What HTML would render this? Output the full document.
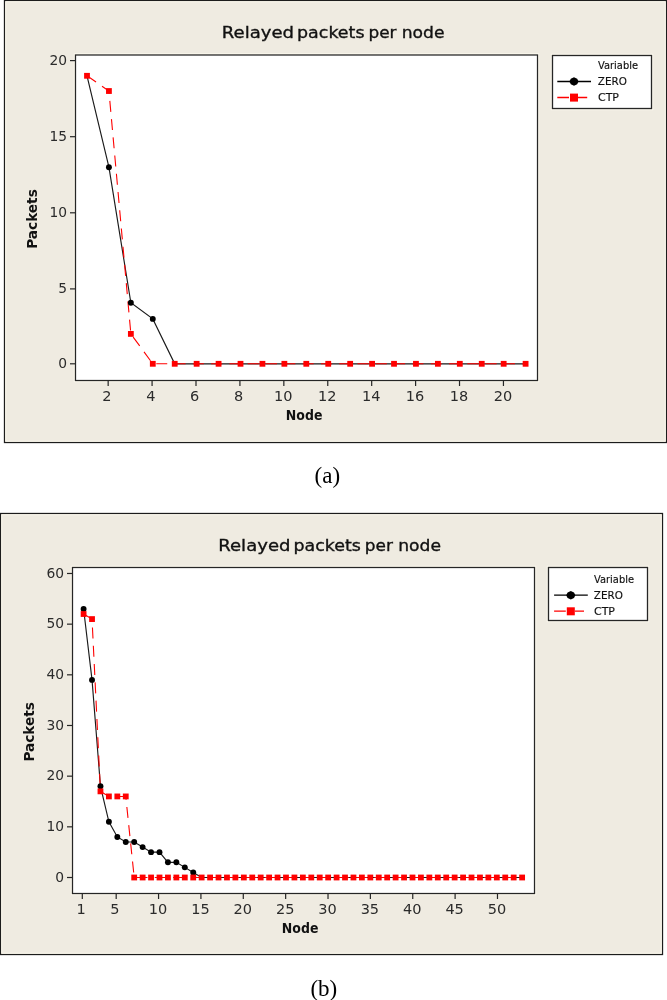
<!DOCTYPE html>
<html><head><meta charset="utf-8"><style>
html,body{margin:0;padding:0;background:#fff;}
svg{display:block;}
.ti{font-family:"DejaVu Sans",sans-serif;font-size:15px;fill:#111;stroke:#111;stroke-width:0.32px;}
.tk{font-family:"DejaVu Sans Condensed","DejaVu Sans",sans-serif;font-size:14.8px;fill:#2b2b2b;}
.al{font-family:"DejaVu Sans Condensed","DejaVu Sans",sans-serif;font-size:13.8px;font-weight:bold;fill:#111;}
.lg{font-family:"DejaVu Sans",sans-serif;font-size:11px;fill:#111;stroke:#111;stroke-width:0.15px;}
.cap{font-family:"Liberation Serif",serif;font-size:23px;fill:#000;}
</style></head><body>
<svg width="667" height="1000" viewBox="0 0 667 1000">
<rect width="667" height="1000" fill="#fff"/>
<rect x="4.5" y="0.5" width="662" height="442" fill="#EFEBE1" stroke="#1c1c1c" stroke-width="1.3"/>
<rect x="5.75" y="1.75" width="659.5" height="439.5" fill="none" stroke="#FDF9EE" stroke-width="0.9"/>
<rect x="74.25" y="53.75" width="464.5" height="328.0" fill="none" stroke="#FDF9EE" stroke-width="0.9"/>
<rect x="75.5" y="55.0" width="462" height="325.5" fill="#fff" stroke="#262626" stroke-width="1.25"/>
<text y="38.4" class="ti"><tspan x="221.87" textLength="72.23" lengthAdjust="spacingAndGlyphs">Relayed</tspan> <tspan x="297.05" textLength="67.46" lengthAdjust="spacingAndGlyphs">packets</tspan> <tspan x="368.49" textLength="28.09" lengthAdjust="spacingAndGlyphs">per</tspan> <tspan x="401.76" textLength="42.82" lengthAdjust="spacingAndGlyphs">node</tspan></text>
<line x1="70" y1="363.8" x2="75" y2="363.8" stroke="#262626" stroke-width="1.2"/>
<text transform="translate(67,367.9) scale(1.04,1)" class="tk" text-anchor="end">0</text>
<line x1="70" y1="288.9" x2="75" y2="288.9" stroke="#262626" stroke-width="1.2"/>
<text transform="translate(67,293) scale(1.04,1)" class="tk" text-anchor="end">5</text>
<line x1="70" y1="212.8" x2="75" y2="212.8" stroke="#262626" stroke-width="1.2"/>
<text transform="translate(67,216.9) scale(1.04,1)" class="tk" text-anchor="end">10</text>
<line x1="70" y1="136.7" x2="75" y2="136.7" stroke="#262626" stroke-width="1.2"/>
<text transform="translate(67,140.8) scale(1.04,1)" class="tk" text-anchor="end">15</text>
<line x1="70" y1="60.6" x2="75" y2="60.6" stroke="#262626" stroke-width="1.2"/>
<text transform="translate(67,64.7) scale(1.04,1)" class="tk" text-anchor="end">20</text>
<line x1="108.16" y1="380.5" x2="108.16" y2="386" stroke="#262626" stroke-width="1.2"/>
<text transform="translate(106.86,401.3) scale(1.09,1)" class="tk" text-anchor="middle">2</text>
<line x1="152.08" y1="380.5" x2="152.08" y2="386" stroke="#262626" stroke-width="1.2"/>
<text transform="translate(150.78,401.3) scale(1.09,1)" class="tk" text-anchor="middle">4</text>
<line x1="196" y1="380.5" x2="196" y2="386" stroke="#262626" stroke-width="1.2"/>
<text transform="translate(194.7,401.3) scale(1.09,1)" class="tk" text-anchor="middle">6</text>
<line x1="239.92" y1="380.5" x2="239.92" y2="386" stroke="#262626" stroke-width="1.2"/>
<text transform="translate(238.62,401.3) scale(1.09,1)" class="tk" text-anchor="middle">8</text>
<line x1="283.84" y1="380.5" x2="283.84" y2="386" stroke="#262626" stroke-width="1.2"/>
<text transform="translate(283.34,401.3) scale(1.09,1)" class="tk" text-anchor="middle">10</text>
<line x1="327.76" y1="380.5" x2="327.76" y2="386" stroke="#262626" stroke-width="1.2"/>
<text transform="translate(327.26,401.3) scale(1.09,1)" class="tk" text-anchor="middle">12</text>
<line x1="371.68" y1="380.5" x2="371.68" y2="386" stroke="#262626" stroke-width="1.2"/>
<text transform="translate(371.18,401.3) scale(1.09,1)" class="tk" text-anchor="middle">14</text>
<line x1="415.6" y1="380.5" x2="415.6" y2="386" stroke="#262626" stroke-width="1.2"/>
<text transform="translate(415.1,401.3) scale(1.09,1)" class="tk" text-anchor="middle">16</text>
<line x1="459.52" y1="380.5" x2="459.52" y2="386" stroke="#262626" stroke-width="1.2"/>
<text transform="translate(459.02,401.3) scale(1.09,1)" class="tk" text-anchor="middle">18</text>
<line x1="503.44" y1="380.5" x2="503.44" y2="386" stroke="#262626" stroke-width="1.2"/>
<text transform="translate(502.94,401.3) scale(1.09,1)" class="tk" text-anchor="middle">20</text>
<text x="285.8" y="420.2" class="al" textLength="36.6" lengthAdjust="spacingAndGlyphs">Node</text>
<text transform="translate(37.4,248.8) rotate(-90)" x="0" y="0" class="al" textLength="59.6" lengthAdjust="spacingAndGlyphs">Packets</text>
<polyline points="87,75.8 108.93,167.2 130.86,302.8 152.79,318.9 174.72,363.8 196.65,363.8 218.58,363.8 240.51,363.8 262.44,363.8 284.37,363.8 306.3,363.8 328.23,363.8 350.16,363.8 372.09,363.8 394.02,363.8 415.95,363.8 437.88,363.8 459.81,363.8 481.74,363.8 503.67,363.8 525.6,363.8" fill="none" stroke="#1a1a1a" stroke-width="1.15"/>
<polyline points="87,75.8 108.93,91.02 130.86,333.9 152.79,363.8 174.72,363.8 196.65,363.8 218.58,363.8 240.51,363.8 262.44,363.8 284.37,363.8 306.3,363.8 328.23,363.8 350.16,363.8 372.09,363.8 394.02,363.8 415.95,363.8 437.88,363.8 459.81,363.8 481.74,363.8 503.67,363.8 525.6,363.8" fill="none" stroke="#FF0000" stroke-width="1.1" stroke-dasharray="11 7.3"/>
<circle cx="108.93" cy="167.2" r="2.95" fill="#000"/>
<circle cx="130.86" cy="302.8" r="2.95" fill="#000"/>
<circle cx="152.79" cy="318.9" r="2.95" fill="#000"/>
<rect x="84.1" y="72.9" width="5.8" height="5.8" fill="#FF0000"/>
<rect x="106.03" y="88.12" width="5.8" height="5.8" fill="#FF0000"/>
<rect x="127.96" y="331" width="5.8" height="5.8" fill="#FF0000"/>
<rect x="149.89" y="360.9" width="5.8" height="5.8" fill="#FF0000"/>
<rect x="171.82" y="360.9" width="5.8" height="5.8" fill="#FF0000"/>
<rect x="193.75" y="360.9" width="5.8" height="5.8" fill="#FF0000"/>
<rect x="215.68" y="360.9" width="5.8" height="5.8" fill="#FF0000"/>
<rect x="237.61" y="360.9" width="5.8" height="5.8" fill="#FF0000"/>
<rect x="259.54" y="360.9" width="5.8" height="5.8" fill="#FF0000"/>
<rect x="281.47" y="360.9" width="5.8" height="5.8" fill="#FF0000"/>
<rect x="303.4" y="360.9" width="5.8" height="5.8" fill="#FF0000"/>
<rect x="325.33" y="360.9" width="5.8" height="5.8" fill="#FF0000"/>
<rect x="347.26" y="360.9" width="5.8" height="5.8" fill="#FF0000"/>
<rect x="369.19" y="360.9" width="5.8" height="5.8" fill="#FF0000"/>
<rect x="391.12" y="360.9" width="5.8" height="5.8" fill="#FF0000"/>
<rect x="413.05" y="360.9" width="5.8" height="5.8" fill="#FF0000"/>
<rect x="434.98" y="360.9" width="5.8" height="5.8" fill="#FF0000"/>
<rect x="456.91" y="360.9" width="5.8" height="5.8" fill="#FF0000"/>
<rect x="478.84" y="360.9" width="5.8" height="5.8" fill="#FF0000"/>
<rect x="500.77" y="360.9" width="5.8" height="5.8" fill="#FF0000"/>
<rect x="522.7" y="360.9" width="5.8" height="5.8" fill="#FF0000"/>
<rect x="551.25" y="54.25" width="101.5" height="55.5" fill="none" stroke="#FDF9EE" stroke-width="0.9"/>
<rect x="552.5" y="55.5" width="99" height="53" fill="#fff" stroke="#262626" stroke-width="1.3"/>
<text x="598" y="69.1" class="lg" textLength="40" lengthAdjust="spacingAndGlyphs">Variable</text>
<text x="597.8" y="85.1" class="lg" textLength="29" lengthAdjust="spacingAndGlyphs">ZERO</text>
<text x="598" y="101.1" class="lg" textLength="21" lengthAdjust="spacingAndGlyphs">CTP</text>
<line x1="557.3" y1="81.5" x2="591" y2="81.5" stroke="#000" stroke-width="1.3"/>
<path d="M574 77.3l3.2 1.4 1.4 2.8-1.4 2.8-3.2 1.4-3.2-1.4-1.4-2.8 1.4-2.8z" fill="#000"/>
<path d="M557.3 97.5H569M578 97.5H587.2" stroke="#FF0000" stroke-width="1.3"/>
<rect x="570" y="93.6" width="8" height="8" fill="#FF0000"/>
<rect x="0.5" y="513.5" width="662" height="441" fill="#EFEBE1" stroke="#1c1c1c" stroke-width="1.3"/>
<rect x="1.75" y="514.75" width="659.5" height="438.5" fill="none" stroke="#FDF9EE" stroke-width="0.9"/>
<rect x="71.25" y="566.25" width="464.5" height="328.5" fill="none" stroke="#FDF9EE" stroke-width="0.9"/>
<rect x="72.5" y="567.5" width="462" height="326" fill="#fff" stroke="#262626" stroke-width="1.25"/>
<text y="551" class="ti"><tspan x="218.27" textLength="72.23" lengthAdjust="spacingAndGlyphs">Relayed</tspan> <tspan x="293.45" textLength="67.46" lengthAdjust="spacingAndGlyphs">packets</tspan> <tspan x="364.89" textLength="28.09" lengthAdjust="spacingAndGlyphs">per</tspan> <tspan x="398.16" textLength="42.82" lengthAdjust="spacingAndGlyphs">node</tspan></text>
<line x1="67" y1="877.5" x2="72" y2="877.5" stroke="#262626" stroke-width="1.2"/>
<text transform="translate(64,881.6) scale(1.04,1)" class="tk" text-anchor="end">0</text>
<line x1="67" y1="826.83" x2="72" y2="826.83" stroke="#262626" stroke-width="1.2"/>
<text transform="translate(64,830.93) scale(1.04,1)" class="tk" text-anchor="end">10</text>
<line x1="67" y1="776.16" x2="72" y2="776.16" stroke="#262626" stroke-width="1.2"/>
<text transform="translate(64,780.26) scale(1.04,1)" class="tk" text-anchor="end">20</text>
<line x1="67" y1="725.49" x2="72" y2="725.49" stroke="#262626" stroke-width="1.2"/>
<text transform="translate(64,729.59) scale(1.04,1)" class="tk" text-anchor="end">30</text>
<line x1="67" y1="674.82" x2="72" y2="674.82" stroke="#262626" stroke-width="1.2"/>
<text transform="translate(64,678.92) scale(1.04,1)" class="tk" text-anchor="end">40</text>
<line x1="67" y1="624.15" x2="72" y2="624.15" stroke="#262626" stroke-width="1.2"/>
<text transform="translate(64,628.25) scale(1.04,1)" class="tk" text-anchor="end">50</text>
<line x1="67" y1="573.48" x2="72" y2="573.48" stroke="#262626" stroke-width="1.2"/>
<text transform="translate(64,577.58) scale(1.04,1)" class="tk" text-anchor="end">60</text>
<line x1="82.3" y1="893.5" x2="82.3" y2="899" stroke="#262626" stroke-width="1.2"/>
<text transform="translate(81,914) scale(1.09,1)" class="tk" text-anchor="middle">1</text>
<line x1="116.19" y1="893.5" x2="116.19" y2="899" stroke="#262626" stroke-width="1.2"/>
<text transform="translate(114.89,914) scale(1.09,1)" class="tk" text-anchor="middle">5</text>
<line x1="158.56" y1="893.5" x2="158.56" y2="899" stroke="#262626" stroke-width="1.2"/>
<text transform="translate(158.06,914) scale(1.09,1)" class="tk" text-anchor="middle">10</text>
<line x1="200.92" y1="893.5" x2="200.92" y2="899" stroke="#262626" stroke-width="1.2"/>
<text transform="translate(200.42,914) scale(1.09,1)" class="tk" text-anchor="middle">15</text>
<line x1="243.29" y1="893.5" x2="243.29" y2="899" stroke="#262626" stroke-width="1.2"/>
<text transform="translate(242.79,914) scale(1.09,1)" class="tk" text-anchor="middle">20</text>
<line x1="285.65" y1="893.5" x2="285.65" y2="899" stroke="#262626" stroke-width="1.2"/>
<text transform="translate(285.15,914) scale(1.09,1)" class="tk" text-anchor="middle">25</text>
<line x1="328.02" y1="893.5" x2="328.02" y2="899" stroke="#262626" stroke-width="1.2"/>
<text transform="translate(327.52,914) scale(1.09,1)" class="tk" text-anchor="middle">30</text>
<line x1="370.38" y1="893.5" x2="370.38" y2="899" stroke="#262626" stroke-width="1.2"/>
<text transform="translate(369.88,914) scale(1.09,1)" class="tk" text-anchor="middle">35</text>
<line x1="412.75" y1="893.5" x2="412.75" y2="899" stroke="#262626" stroke-width="1.2"/>
<text transform="translate(412.25,914) scale(1.09,1)" class="tk" text-anchor="middle">40</text>
<line x1="455.11" y1="893.5" x2="455.11" y2="899" stroke="#262626" stroke-width="1.2"/>
<text transform="translate(454.61,914) scale(1.09,1)" class="tk" text-anchor="middle">45</text>
<line x1="497.48" y1="893.5" x2="497.48" y2="899" stroke="#262626" stroke-width="1.2"/>
<text transform="translate(496.98,914) scale(1.09,1)" class="tk" text-anchor="middle">50</text>
<text x="281.8" y="932.6" class="al" textLength="36.6" lengthAdjust="spacingAndGlyphs">Node</text>
<text transform="translate(33.8,761.6) rotate(-90)" x="0" y="0" class="al" textLength="59.6" lengthAdjust="spacingAndGlyphs">Packets</text>
<polyline points="83.6,608.95 92.03,679.89 100.47,786.29 108.9,821.76 117.33,836.96 125.76,842.03 134.2,842.03 142.63,847.1 151.06,852.16 159.5,852.16 167.93,862.3 176.36,862.3 184.8,867.37 193.23,872.43 201.66,877.5 210.09,877.5 218.53,877.5 226.96,877.5 235.39,877.5 243.83,877.5 252.26,877.5 260.69,877.5 269.13,877.5 277.56,877.5 285.99,877.5 294.42,877.5 302.86,877.5 311.29,877.5 319.72,877.5 328.16,877.5 336.59,877.5 345.02,877.5 353.46,877.5 361.89,877.5 370.32,877.5 378.75,877.5 387.19,877.5 395.62,877.5 404.05,877.5 412.49,877.5 420.92,877.5 429.35,877.5 437.79,877.5 446.22,877.5 454.65,877.5 463.09,877.5 471.52,877.5 479.95,877.5 488.38,877.5 496.82,877.5 505.25,877.5 513.68,877.5 522.12,877.5" fill="none" stroke="#1a1a1a" stroke-width="1.15"/>
<polyline points="83.6,614.02 92.03,619.08 100.47,791.36 108.9,796.43 117.33,796.43 125.76,796.43 134.2,877.5 142.63,877.5 151.06,877.5 159.5,877.5 167.93,877.5 176.36,877.5 184.8,877.5 193.23,877.5 201.66,877.5 210.09,877.5 218.53,877.5 226.96,877.5 235.39,877.5 243.83,877.5 252.26,877.5 260.69,877.5 269.13,877.5 277.56,877.5 285.99,877.5 294.42,877.5 302.86,877.5 311.29,877.5 319.72,877.5 328.16,877.5 336.59,877.5 345.02,877.5 353.46,877.5 361.89,877.5 370.32,877.5 378.75,877.5 387.19,877.5 395.62,877.5 404.05,877.5 412.49,877.5 420.92,877.5 429.35,877.5 437.79,877.5 446.22,877.5 454.65,877.5 463.09,877.5 471.52,877.5 479.95,877.5 488.38,877.5 496.82,877.5 505.25,877.5 513.68,877.5 522.12,877.5" fill="none" stroke="#FF0000" stroke-width="1.1" stroke-dasharray="11 7.3"/>
<circle cx="83.6" cy="608.95" r="2.95" fill="#000"/>
<circle cx="92.03" cy="679.89" r="2.95" fill="#000"/>
<circle cx="100.47" cy="786.29" r="2.95" fill="#000"/>
<circle cx="108.9" cy="821.76" r="2.95" fill="#000"/>
<circle cx="117.33" cy="836.96" r="2.95" fill="#000"/>
<circle cx="125.76" cy="842.03" r="2.95" fill="#000"/>
<circle cx="134.2" cy="842.03" r="2.95" fill="#000"/>
<circle cx="142.63" cy="847.1" r="2.95" fill="#000"/>
<circle cx="151.06" cy="852.16" r="2.95" fill="#000"/>
<circle cx="159.5" cy="852.16" r="2.95" fill="#000"/>
<circle cx="167.93" cy="862.3" r="2.95" fill="#000"/>
<circle cx="176.36" cy="862.3" r="2.95" fill="#000"/>
<circle cx="184.8" cy="867.37" r="2.95" fill="#000"/>
<circle cx="193.23" cy="872.43" r="2.95" fill="#000"/>
<rect x="80.7" y="611.12" width="5.8" height="5.8" fill="#FF0000"/>
<rect x="89.13" y="616.18" width="5.8" height="5.8" fill="#FF0000"/>
<rect x="97.57" y="788.46" width="5.8" height="5.8" fill="#FF0000"/>
<rect x="106" y="793.53" width="5.8" height="5.8" fill="#FF0000"/>
<rect x="114.43" y="793.53" width="5.8" height="5.8" fill="#FF0000"/>
<rect x="122.86" y="793.53" width="5.8" height="5.8" fill="#FF0000"/>
<rect x="131.3" y="874.6" width="5.8" height="5.8" fill="#FF0000"/>
<rect x="139.73" y="874.6" width="5.8" height="5.8" fill="#FF0000"/>
<rect x="148.16" y="874.6" width="5.8" height="5.8" fill="#FF0000"/>
<rect x="156.6" y="874.6" width="5.8" height="5.8" fill="#FF0000"/>
<rect x="165.03" y="874.6" width="5.8" height="5.8" fill="#FF0000"/>
<rect x="173.46" y="874.6" width="5.8" height="5.8" fill="#FF0000"/>
<rect x="181.9" y="874.6" width="5.8" height="5.8" fill="#FF0000"/>
<rect x="190.33" y="874.6" width="5.8" height="5.8" fill="#FF0000"/>
<rect x="198.76" y="874.6" width="5.8" height="5.8" fill="#FF0000"/>
<rect x="207.19" y="874.6" width="5.8" height="5.8" fill="#FF0000"/>
<rect x="215.63" y="874.6" width="5.8" height="5.8" fill="#FF0000"/>
<rect x="224.06" y="874.6" width="5.8" height="5.8" fill="#FF0000"/>
<rect x="232.49" y="874.6" width="5.8" height="5.8" fill="#FF0000"/>
<rect x="240.93" y="874.6" width="5.8" height="5.8" fill="#FF0000"/>
<rect x="249.36" y="874.6" width="5.8" height="5.8" fill="#FF0000"/>
<rect x="257.79" y="874.6" width="5.8" height="5.8" fill="#FF0000"/>
<rect x="266.23" y="874.6" width="5.8" height="5.8" fill="#FF0000"/>
<rect x="274.66" y="874.6" width="5.8" height="5.8" fill="#FF0000"/>
<rect x="283.09" y="874.6" width="5.8" height="5.8" fill="#FF0000"/>
<rect x="291.52" y="874.6" width="5.8" height="5.8" fill="#FF0000"/>
<rect x="299.96" y="874.6" width="5.8" height="5.8" fill="#FF0000"/>
<rect x="308.39" y="874.6" width="5.8" height="5.8" fill="#FF0000"/>
<rect x="316.82" y="874.6" width="5.8" height="5.8" fill="#FF0000"/>
<rect x="325.26" y="874.6" width="5.8" height="5.8" fill="#FF0000"/>
<rect x="333.69" y="874.6" width="5.8" height="5.8" fill="#FF0000"/>
<rect x="342.12" y="874.6" width="5.8" height="5.8" fill="#FF0000"/>
<rect x="350.56" y="874.6" width="5.8" height="5.8" fill="#FF0000"/>
<rect x="358.99" y="874.6" width="5.8" height="5.8" fill="#FF0000"/>
<rect x="367.42" y="874.6" width="5.8" height="5.8" fill="#FF0000"/>
<rect x="375.86" y="874.6" width="5.8" height="5.8" fill="#FF0000"/>
<rect x="384.29" y="874.6" width="5.8" height="5.8" fill="#FF0000"/>
<rect x="392.72" y="874.6" width="5.8" height="5.8" fill="#FF0000"/>
<rect x="401.15" y="874.6" width="5.8" height="5.8" fill="#FF0000"/>
<rect x="409.59" y="874.6" width="5.8" height="5.8" fill="#FF0000"/>
<rect x="418.02" y="874.6" width="5.8" height="5.8" fill="#FF0000"/>
<rect x="426.45" y="874.6" width="5.8" height="5.8" fill="#FF0000"/>
<rect x="434.89" y="874.6" width="5.8" height="5.8" fill="#FF0000"/>
<rect x="443.32" y="874.6" width="5.8" height="5.8" fill="#FF0000"/>
<rect x="451.75" y="874.6" width="5.8" height="5.8" fill="#FF0000"/>
<rect x="460.19" y="874.6" width="5.8" height="5.8" fill="#FF0000"/>
<rect x="468.62" y="874.6" width="5.8" height="5.8" fill="#FF0000"/>
<rect x="477.05" y="874.6" width="5.8" height="5.8" fill="#FF0000"/>
<rect x="485.48" y="874.6" width="5.8" height="5.8" fill="#FF0000"/>
<rect x="493.92" y="874.6" width="5.8" height="5.8" fill="#FF0000"/>
<rect x="502.35" y="874.6" width="5.8" height="5.8" fill="#FF0000"/>
<rect x="510.78" y="874.6" width="5.8" height="5.8" fill="#FF0000"/>
<rect x="519.22" y="874.6" width="5.8" height="5.8" fill="#FF0000"/>
<rect x="547.25" y="566.25" width="101.5" height="55.5" fill="none" stroke="#FDF9EE" stroke-width="0.9"/>
<rect x="548.5" y="567.5" width="99" height="53" fill="#fff" stroke="#262626" stroke-width="1.3"/>
<text x="594" y="582.6" class="lg" textLength="40" lengthAdjust="spacingAndGlyphs">Variable</text>
<text x="593.8" y="598.6" class="lg" textLength="29" lengthAdjust="spacingAndGlyphs">ZERO</text>
<text x="594" y="614.6" class="lg" textLength="21" lengthAdjust="spacingAndGlyphs">CTP</text>
<line x1="554.1" y1="595.2" x2="587.8" y2="595.2" stroke="#000" stroke-width="1.3"/>
<path d="M570.8 591l3.2 1.4 1.4 2.8-1.4 2.8-3.2 1.4-3.2-1.4-1.4-2.8 1.4-2.8z" fill="#000"/>
<path d="M554.1 611.2H565.8M574.8 611.2H584" stroke="#FF0000" stroke-width="1.3"/>
<rect x="566.8" y="607.3" width="8" height="8" fill="#FF0000"/>
<text x="327.3" y="482.6" class="cap" text-anchor="middle">(a)</text>
<text x="323.8" y="995.6" class="cap" text-anchor="middle">(b)</text>
</svg>
</body></html>
